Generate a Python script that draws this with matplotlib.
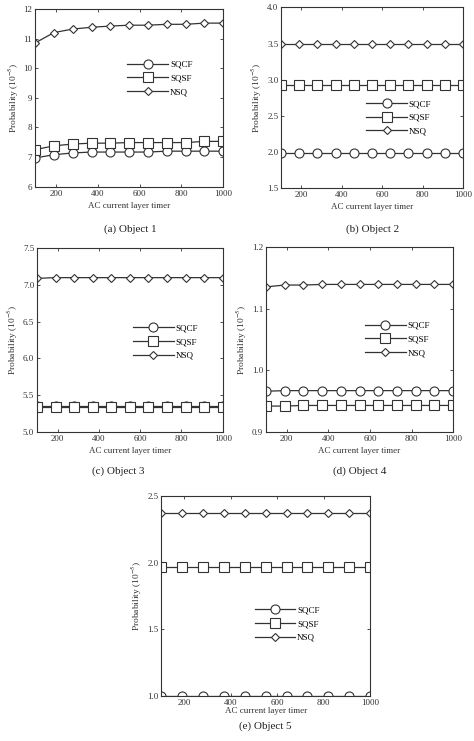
import numpy as np
import matplotlib
matplotlib.use('Agg')
import matplotlib.pyplot as plt

plt.rcParams['font.family'] = ['Liberation Serif', 'DejaVu Serif']
plt.rcParams['mathtext.fontset'] = 'stix'

timer = [100, 190, 280, 370, 460, 550, 640, 730, 820, 910, 1000]
xticks = [200, 400, 600, 800, 1000]

# object 1
sqcf_1 = [6.97, 7.08, 7.14, 7.17, 7.17, 7.17, 7.17, 7.20, 7.20, 7.20, 7.20]
sqsf_1 = [7.25, 7.38, 7.44, 7.47, 7.47, 7.49, 7.49, 7.49, 7.49, 7.53, 7.53]
nsq_1 = [10.85, 11.20, 11.32, 11.38, 11.42, 11.45, 11.45, 11.48, 11.48, 11.52, 11.52]
# object 2
sqcf_2 = [1.98] * 11
sqsf_2 = [2.93] * 11
nsq_2 = [3.50] * 11
# object 3
sqcf_3 = [5.36] * 11
sqsf_3 = [5.34] * 11
nsq_3 = [7.09, 7.10, 7.10, 7.10, 7.10, 7.10, 7.10, 7.10, 7.10, 7.10, 7.10]
# object 4
sqcf_4 = [0.966, 0.967, 0.967, 0.967, 0.967, 0.967, 0.967, 0.967, 0.967, 0.967, 0.967]
sqsf_4 = [0.942, 0.942, 0.943, 0.943, 0.943, 0.943, 0.943, 0.943, 0.943, 0.943, 0.943]
nsq_4 = [1.135, 1.138, 1.138, 1.139, 1.139, 1.139, 1.139, 1.139, 1.139, 1.139, 1.139]
# object 5
sqcf_5 = [1.00] * 11
sqsf_5 = [1.97] * 11
nsq_5 = [2.37] * 11

panels = [
    dict(data=(sqcf_1, sqsf_1, nsq_1), ylim=(6, 12), yticks=np.arange(6, 12.5, 1), fmt='%d',
         rect=[0.074, 0.748, 0.397, 0.240], leg=(0.86, 0.61), cap=(0.274, 0.691), title='(a) Object 1', xpad=3),
    dict(data=(sqcf_2, sqsf_2, nsq_2), ylim=(1.5, 4.0), yticks=np.arange(1.5, 4.01, 0.5), fmt='%.1f',
         rect=[0.593, 0.746, 0.384, 0.244], leg=(0.85, 0.39), cap=(0.785, 0.691), title='(b) Object 2', xpad=3),
    dict(data=(sqcf_3, sqsf_3, nsq_3), ylim=(5.0, 7.5), yticks=np.arange(5.0, 7.51, 0.5), fmt='%.1f',
         rect=[0.078, 0.417, 0.392, 0.248], leg=(0.89, 0.49), cap=(0.249, 0.364), title='(c) Object 3', xpad=3),
    dict(data=(sqcf_4, sqsf_4, nsq_4), ylim=(0.9, 1.2), yticks=np.arange(0.9, 1.21, 0.1), fmt='%.1f',
         rect=[0.561, 0.417, 0.395, 0.250], leg=(0.90, 0.50), cap=(0.759, 0.364), title='(d) Object 4', xpad=3),
    dict(data=(sqcf_5, sqsf_5, nsq_5), ylim=(1.0, 2.5), yticks=np.arange(1.0, 2.51, 0.5), fmt='%.1f',
         rect=[0.340, 0.0607, 0.441, 0.270], leg=(0.78, 0.36), cap=(0.559, 0.020), title='(e) Object 5', xpad=0.5),
]

fig = plt.figure(figsize=(4.74, 7.41), dpi=100)

for p in panels:
    ax = fig.add_axes(p['rect'])
    sqcf, sqsf, nsq = p['data']
    kw = dict(color='#333333', lw=0.9, mfc='white', mec='#333333', mew=0.8)
    ax.plot(timer, sqcf, marker='o', ms=6.5, label='SQCF', **kw)
    ax.plot(timer, sqsf, marker='s', ms=6.5, label='SQSF', **kw)
    ax.plot(timer, nsq, marker='D', ms=3.8, label='NSQ', **kw)
    ax.set_xlim(100, 1000)
    ax.set_ylim(*p['ylim'])
    ax.set_xticks(xticks)
    ax.set_yticks(p['yticks'])
    ax.yaxis.set_major_formatter(matplotlib.ticker.FormatStrFormatter(p['fmt']))
    ax.tick_params(direction='in', top=True, right=True, labelsize=6.5, length=2.5, width=0.6,
                   colors='#333333', pad=2)
    for s in ax.spines.values():
        s.set_linewidth(0.8)
        s.set_color('#333333')
    ax.set_xlabel('AC current layer timer', fontsize=6.5, labelpad=p['xpad'], color='#333333')
    ax.set_ylabel(r'Probability (10$^{-5}$)', fontsize=6.8, labelpad=2, color='#333333')
    ax.legend(loc='center right', bbox_to_anchor=p['leg'], frameon=False, fontsize=6.5,
              handlelength=4.5, handletextpad=0.2, labelspacing=0.6, borderpad=0)
    fig.text(p['cap'][0], p['cap'][1], p['title'], ha='center', va='center', fontsize=8, color='#222222')

fig.savefig('out.png', dpi=100, facecolor='white')
